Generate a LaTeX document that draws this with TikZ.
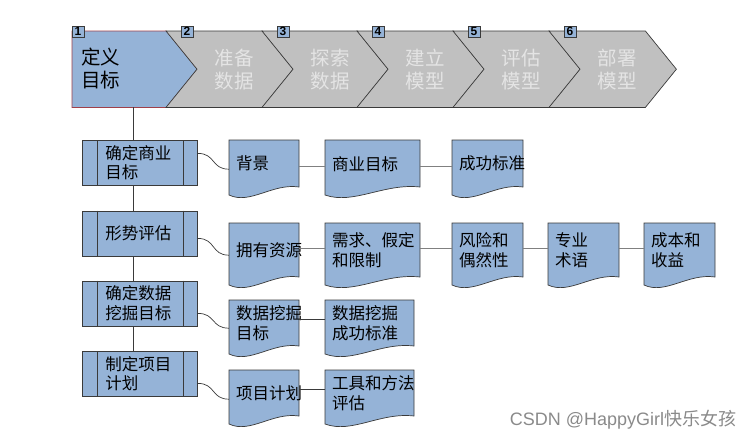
\documentclass[tikz,border=0pt]{standalone}
\usepackage{fontspec}
\setmainfont{Noto Sans CJK SC}
\newfontfamily\latinfont{Liberation Sans}
\usetikzlibrary{calc}
\definecolor{boxblue}{HTML}{95B3D7}
\definecolor{chevgray}{HTML}{C0C0C0}
\definecolor{chevtext}{HTML}{E4E4E4}
\definecolor{edgecol}{HTML}{3A3A3A}
\definecolor{redge}{HTML}{A0404A}
\definecolor{lnk}{HTML}{808080}
\definecolor{wmcol}{HTML}{8A8A8A}
\tikzset{
 chev/.style={fill=chevgray, draw=edgecol, line width=0.7pt, line join=miter},
 chevfirst/.style={fill=boxblue, draw=redge, line width=0.8pt},
 region/.style={inner sep=0pt, minimum height=76pt, anchor=north west},
 chevtxt/.style={text=chevtext, font=\fontsize{19.5}{23}\selectfont, align=center, inner sep=0pt},
 numbox/.style={fill=boxblue, draw=edgecol, line width=0.6pt, minimum width=11.5pt, minimum height=11pt, inner sep=0pt, font=\latinfont\bfseries\fontsize{12}{12}\selectfont, anchor=north west},
 proc/.style={fill=boxblue, draw=edgecol, line width=0.8pt, minimum width=115pt, minimum height=45pt, inner xsep=23pt, inner ysep=0pt, text width=69pt, align=left, anchor=north west, font=\fontsize{16.5}{19.5}\selectfont},
 docshape/.style={fill=boxblue, draw=edgecol, line width=0.7pt},
 doctext/.style={inner xsep=7pt, inner ysep=0pt, align=left, anchor=north west, font=\fontsize{16.5}{19.5}\selectfont},
 conn/.style={draw=edgecol, line width=0.7pt},
 link/.style={draw=lnk, line width=1pt},
 spine/.style={draw=edgecol, line width=0.8pt},
 wm/.style={text=wmcol, font=\fontsize{18}{21}\selectfont, inner sep=0pt},
}
\newcommand\docbox[6]{%
  \pgfmathsetmacro\dxr{#2+#4}\pgfmathsetmacro\dyb{#3+#5}\pgfmathsetmacro\dyl{#3+#5+8}%
  \pgfmathsetmacro\cxa{#2+0.3*#4}\pgfmathsetmacro\cxb{#2+0.62*#4}%
  \pgfmathsetmacro\cya{#3+#5+18}\pgfmathsetmacro\cyb{#3+#5-4}%
  \filldraw[docshape] (#2,#3) -- (\dxr,#3) -- (\dxr,\dyb) .. controls (\cxb,\cyb) and (\cxa,\cya) .. (#2,\dyl) -- cycle;
  \pgfmathsetmacro\tw{#4-14}%
  \node[doctext, text width=\tw pt, minimum width=#4pt, minimum height=#5pt] (#1) at (#2,#3) {#6};
}
\begin{document}
\begin{tikzpicture}[x=1pt,y=-1pt]
\useasboundingbox (0,0) rectangle (756,442);
% chevron regions
\node[region, minimum width=94pt] (c1) at (72,31) {};
\node[region, minimum width=96pt] (c2) at (166,31) {};
\node[region, minimum width=95pt] (c3) at (262,31) {};
\node[region, minimum width=96pt] (c4) at (357,31) {};
\node[region, minimum width=96pt] (c5) at (453,31) {};
\node[region, minimum width=96pt] (c6) at (549,31) {};
\filldraw[chevfirst] (c1.north west) -- (c1.north east) -- ([xshift=31pt]c1.east) -- (c1.south east) -- (c1.south west) -- cycle;
\foreach \c in {c2,c3,c4,c5,c6}{
  \filldraw[chev] (\c.north west) -- (\c.north east) -- ([xshift=31pt]\c.east) -- (\c.south east) -- (\c.south west) -- ([xshift=31pt]\c.west) -- cycle;
}
\node[chevtxt, text=black, anchor=west, align=left] (c1t) at ([xshift=9pt,yshift=0.5pt]c1.west) {定义\\目标};
\node[chevtxt] (c2t) at ([xshift=68pt]c2.west) {准备\\数据};
\node[chevtxt] (c3t) at ([xshift=68pt]c3.west) {探索\\数据};
\node[chevtxt] (c4t) at ([xshift=68pt]c4.west) {建立\\模型};
\node[chevtxt] (c5t) at ([xshift=68pt]c5.west) {评估\\模型};
\node[chevtxt] (c6t) at ([xshift=68pt]c6.west) {部署\\模型};
% number boxes
\node[numbox] (n1) at (72,25.5) {1};
\node[numbox] (n2) at (181,25.5) {2};
\node[numbox] (n3) at (277,25.5) {3};
\node[numbox] (n4) at (372,25.5) {4};
\node[numbox] (n5) at (468,25.5) {5};
\node[numbox] (n6) at (564,25.5) {6};
% left process boxes
\coordinate (sp) at (133,0);
\node[proc] (b1) at (82,140) {确定商业\\目标};
\node[proc] (b2) at (82,210.5) {形势评估};
\node[proc] (b3) at (82,280.5) {确定数据\\挖掘目标};
\node[proc] (b4) at (82,351) {制定项目\\计划};
\foreach \b in {b1,b2,b3,b4}{
  \draw[spine] ([xshift=15pt]\b.north west) -- ([xshift=15pt]\b.south west)
               ([xshift=-14pt]\b.north east) -- ([xshift=-14pt]\b.south east);
}
\draw[spine] (c1.south -| sp) -- (b1.north -| sp)
             (b1.south -| sp) -- (b2.north -| sp)
             (b2.south -| sp) -- (b3.north -| sp)
             (b3.south -| sp) -- (b4.north -| sp);
% documents
\docbox{d11}{229}{140}{70}{47}{背景}
\docbox{d12}{325}{140}{95}{47}{商业目标}
\docbox{d13}{452}{140}{71}{47}{成功标准}
\docbox{d21}{229}{223}{70}{54}{拥有资源}
\docbox{d22}{325}{223}{95}{54}{需求、假定\\和限制}
\docbox{d23}{452}{223}{71}{54}{风险和\\偶然性}
\docbox{d24}{548}{223}{71}{54}{专业\\术语}
\docbox{d25}{644}{223}{71}{54}{成本和\\收益}
\docbox{d31}{229}{300}{70}{46}{数据挖掘\\目标}
\docbox{d32}{325}{300}{89}{46}{数据挖掘\\成功标准}
\docbox{d41}{229}{370}{70}{46}{项目计划}
\docbox{d42}{325}{370}{89}{46}{工具和方法\\评估}
% links between documents
\draw[link] ([yshift=-2.5pt]d11.east) -- ([yshift=-2.5pt]d12.west);
\draw[link] ([yshift=-2.5pt]d12.east) -- ([yshift=-2.5pt]d13.west);
\draw[link] ([yshift=2pt]d21.east) -- ([yshift=2pt]d22.west);
\draw[link] ([yshift=2pt]d22.east) -- ([yshift=2pt]d23.west);
\draw[link] ([yshift=2pt]d23.east) -- ([yshift=2pt]d24.west);
\draw[link] ([yshift=2pt]d24.east) -- ([yshift=2pt]d25.west);
\draw[conn] ([yshift=4pt]d31.east) -- ([yshift=4pt]d32.west);
\draw[conn] ([yshift=4pt]d41.east) -- ([yshift=4pt]d42.west);
% curved connectors
\draw[conn] ([yshift=9.5pt]b1.east) .. controls +(18,0) and +(-18,0) .. ([yshift=-5.5pt]d11.west);
\draw[conn] ([yshift=-5pt]b2.east) .. controls +(18,0) and +(-18,0) .. ([yshift=-5pt]d21.west);
\draw[conn] ([yshift=-10pt]b3.east) .. controls +(18,0) and +(-18,0) .. ([yshift=-5pt]d31.west);
\draw[conn] ([yshift=-9.5pt]b4.east) .. controls +(18,0) and +(-18,0) .. ([yshift=-6pt]d41.west);
% watermark
\node[wm] (wm) at (623,420) {{\latinfont CSDN @HappyGirl}快乐女孩};
\end{tikzpicture}
\end{document}
